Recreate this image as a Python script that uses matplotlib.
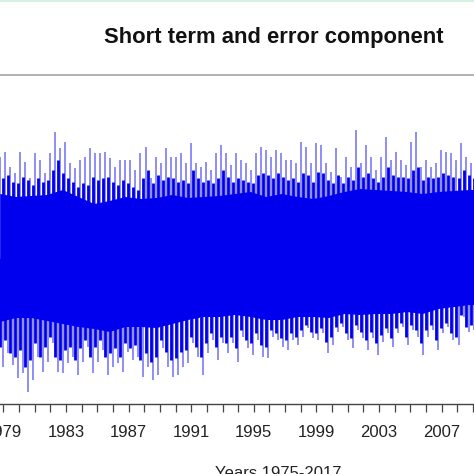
import matplotlib.pyplot as plt
from matplotlib.patches import Rectangle
from matplotlib.ticker import FixedLocator, FuncFormatter
import numpy as np

# Valeurs (résidus, unités arbitraires)
# une valeur toutes les 0.32 années à partir de 1978.8
start_year = 1978.8
step_year = 0.32

# pointes extrêmes (traits fins, clairs)
upper_peaks = [
    5.07, 5.32, 4.57, 4.23, 5.32, 4.82, 3.98, 5.23, 4.90, 4.23,
    5.23, 6.32, 5.48, 5.82, 4.73, 4.48, 4.90, 5.07, 5.48, 5.23,
    5.23, 5.32, 4.98, 4.57, 4.90, 4.90, 4.90, 4.40, 5.23, 5.57,
    3.98, 5.07, 4.73, 5.48, 5.07, 5.07, 5.23, 4.73, 5.73, 4.73,
    4.57, 4.82, 4.40, 5.23, 5.65, 5.23, 4.65, 5.23, 4.90, 4.73,
    4.40, 5.23, 5.57, 5.40, 5.07, 5.40, 5.23, 4.90, 4.90, 4.73,
    5.82, 5.57, 4.73, 5.73, 5.65, 4.73, 4.32, 5.48, 4.07, 5.07,
    4.57, 6.40, 4.73, 5.65, 5.07, 4.40, 5.07, 6.07, 4.90, 5.32,
    4.90, 4.65, 5.82, 6.32, 4.57, 4.90, 4.57, 4.73, 5.40, 5.32,
    5.23, 4.90, 5.73, 5.07, 4.73,
]
lower_peaks = [
    -5.43, -4.77, -5.35, -6.02, -5.77, -6.68, -6.10, -4.93, -5.68, -5.18,
    -4.27, -5.68, -5.77, -5.27, -4.93, -5.85, -5.18, -4.43, -5.77, -5.18,
    -4.60, -5.85, -5.43, -5.27, -5.68, -4.68, -5.10, -4.93, -5.93, -5.43,
    -6.10, -5.85, -4.52, -5.43, -5.93, -5.85, -5.43, -5.27, -4.27, -4.93,
    -5.85, -4.77, -4.10, -5.10, -4.27, -4.77, -4.27, -5.18, -3.93, -4.52,
    -4.85, -4.10, -4.93, -5.02, -3.93, -4.10, -4.43, -4.60, -4.10, -4.35,
    -3.93, -3.52, -4.02, -4.10, -3.77, -4.77, -4.35, -3.68, -3.43, -4.10,
    -4.52, -3.60, -4.02, -4.60, -4.02, -4.85, -4.18, -3.77, -4.43, -3.77,
    -3.43, -4.35, -3.60, -3.93, -4.85, -3.93, -3.60, -4.60, -3.77, -3.43,
    -4.10, -4.35, -2.93, -3.68, -3.60,
]

# pics intermédiaires (barres foncées entre les pointes)
upper_mid = [
    3.98, 4.15, 3.82, 3.73, 4.07, 3.90, 3.65, 3.98, 3.82, 3.90,
    4.40, 4.90, 4.23, 3.98, 3.82, 3.57, 3.73, 3.65, 4.07, 3.90,
    3.98, 4.07, 3.82, 3.65, 3.90, 3.73, 3.57, 3.40, 3.98, 4.40,
    3.73, 4.15, 3.90, 4.07, 3.98, 3.82, 3.90, 3.73, 4.40, 3.98,
    3.82, 3.90, 3.73, 3.98, 4.40, 4.07, 3.82, 3.98, 3.90, 3.82,
    3.73, 4.15, 4.23, 4.15, 3.98, 4.23, 4.07, 3.90, 3.98, 3.82,
    4.23, 4.15, 3.82, 4.32, 4.23, 3.90, 3.73, 4.15, 3.73, 4.07,
    3.90, 4.57, 4.07, 4.23, 3.98, 3.82, 4.07, 4.57, 4.15, 4.07,
    4.07, 3.98, 4.40, 4.57, 3.90, 4.07, 3.98, 4.07, 4.23, 4.15,
    4.07, 3.98, 4.40, 4.15, 3.98,
]
lower_mid = [
    -4.43, -4.10, -4.77, -4.93, -4.60, -5.43, -5.10, -4.27, -4.93, -4.43,
    -3.93, -4.93, -5.10, -4.60, -4.43, -5.10, -4.52, -4.10, -4.93, -4.43,
    -4.10, -4.93, -4.77, -4.52, -4.93, -4.27, -4.52, -4.35, -5.10, -4.77,
    -5.18, -4.93, -4.10, -4.68, -5.10, -5.02, -4.68, -4.60, -3.93, -4.43,
    -4.93, -4.27, -3.77, -4.43, -3.93, -4.27, -3.93, -4.52, -3.60, -4.10,
    -4.27, -3.77, -4.35, -4.43, -3.60, -3.77, -4.02, -4.10, -3.77, -3.93,
    -3.60, -3.35, -3.68, -3.77, -3.52, -4.18, -3.93, -3.43, -3.27, -3.77,
    -4.02, -3.35, -3.68, -4.10, -3.68, -4.27, -3.85, -3.52, -4.02, -3.52,
    -3.27, -3.93, -3.35, -3.60, -4.27, -3.60, -3.35, -4.10, -3.52, -3.27,
    -3.77, -3.93, -2.85, -3.43, -3.35,
]

# zone pleine centrale, lue une fois par an à partir de 1978.8
core_top = [
    3.20, 3.05, 3.10, 3.15, 3.40, 3.05, 2.70, 2.85, 3.05, 2.95,
    3.00, 3.15, 3.00, 3.05, 3.10, 3.20, 3.30, 3.05, 3.20, 3.05,
    2.95, 3.10, 3.30, 3.45, 3.40, 3.35, 3.30, 3.20, 3.30, 3.35,
    3.40, 3.40,
]
core_bottom = [
    -3.20, -3.00, -3.00, -3.15, -3.30, -3.45, -3.55, -3.70, -3.45, -3.45,
    -3.50, -3.30, -3.10, -2.95, -2.95, -2.85, -2.95, -3.10, -3.10, -2.95,
    -2.95, -3.00, -2.80, -2.85, -2.80, -2.80, -2.70, -2.80, -2.55, -2.45,
    -2.35, -2.35,
]

tick_years = list(range(1975, 2018))
label_years = list(range(1979, 2018, 4))

t_a = start_year + step_year * np.arange(len(upper_peaks))
t_b = t_a + step_year / 2
t_core = start_year + np.arange(len(core_top))

plt.rcParams['font.family'] = ['Liberation Sans', 'DejaVu Sans']

fig = plt.figure(figsize=(4.74, 4.74), dpi=100)
ax = fig.add_axes([0, 1 - 404 / 474, 1, (404 - 75) / 474])

blue = '#0000ee'
light = '#5050f2'
# pointes fines
ax.vlines(t_a, 0, upper_peaks, color=light, lw=1.3, alpha=0.7, zorder=1)
ax.vlines(t_b, lower_peaks, 0, color=light, lw=1.3, alpha=0.7, zorder=1)
# zone pleine + barres foncées
ax.fill_between(t_core, core_bottom, core_top, color=blue, lw=0, zorder=2)
ax.vlines(t_b, 0, upper_mid, color=blue, lw=2.0, zorder=2)
ax.vlines(t_a, lower_mid, 0, color=blue, lw=2.0, zorder=2)

ax.set_xlim(1978.783, 2009.07)
ax.set_ylim(-7.3, 9.15)

# Cadre : seulement le haut (gris) et l'axe du bas
ax.spines['left'].set_visible(False)
ax.spines['right'].set_visible(False)
ax.spines['top'].set_color('#a6a6a6')
ax.spines['top'].set_linewidth(1.2)
ax.spines['bottom'].set_color('#444444')
ax.spines['bottom'].set_linewidth(1.0)

ax.yaxis.set_visible(False)
ax.xaxis.set_major_locator(FixedLocator(tick_years))
ax.xaxis.set_major_formatter(FuncFormatter(
    lambda v, pos: str(int(round(v))) if int(round(v)) in label_years else ''))
ax.tick_params(axis='x', length=6, width=0.9, color='#444444',
               labelsize=12, labelcolor='#222222', pad=9)

fig.text(274 / 474, 1 - 37 / 474, 'Short term and error component',
         ha='center', va='center', fontsize=15.8, fontweight='bold', color='#111111')
fig.text(278 / 474, 8 / 474, 'Years 1975-2017', ha='center', va='top',
         fontsize=12, color='#222222')

# Bande verte en haut de l'image
fig.add_artist(Rectangle((0, 1 - 2 / 474), 1, 2 / 474, color='#d6f0e2',
                         transform=fig.transFigure, lw=0))

fig.savefig('out.png', dpi=100)
